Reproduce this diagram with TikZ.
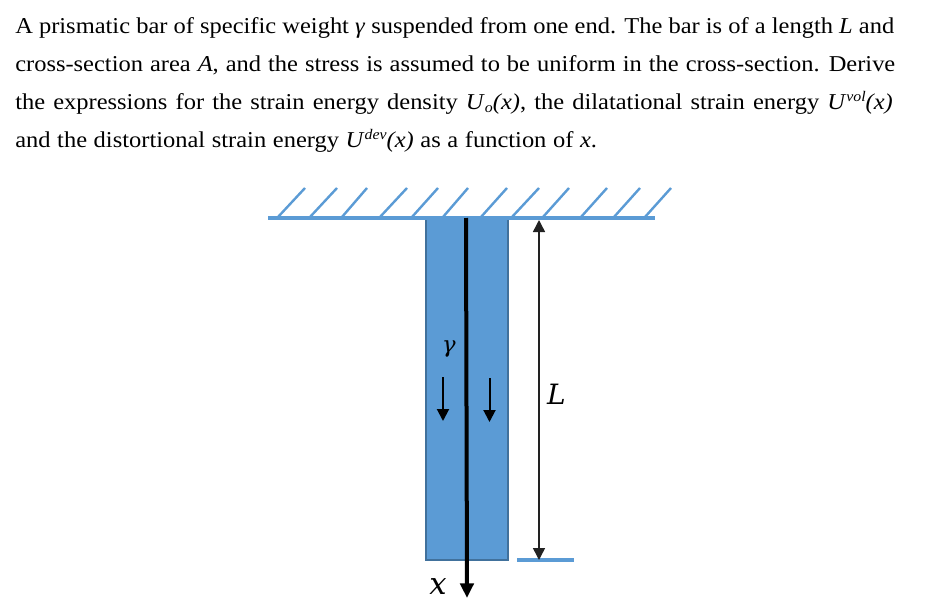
\documentclass[tikz,border=0pt]{standalone}
\usepackage{fontspec}
\setmainfont[FakeStretch=1.08]{Liberation Serif}
\newfontfamily\symfont{DejaVu Serif}
\usetikzlibrary{arrows.meta}
\definecolor{barblue}{HTML}{5B9BD5}
\definecolor{baredge}{HTML}{41719C}
\definecolor{dimgrey}{HTML}{222222}
\newcommand{\supsc}[1]{\raisebox{0.32em}{\fontsize{11}{11}\selectfont\textit{#1}}}
\newcommand{\subsc}[1]{\raisebox{-0.15em}{\fontsize{11}{11}\selectfont\textit{#1}}}
\tikzset{x=0.75pt,y=-0.75pt,
    textline/.style={
        anchor=base west,
        inner sep=0pt,
        font=\fontsize{17}{19}\selectfont},
    symbol/.style={
        inner sep=0pt,
        font=\symfont\fontsize{21}{23}\selectfont\itshape},
    support/.style={
        draw=barblue,
        line width=2.4pt},
    every edge/.style={
        draw=dimgrey,
        line width=1.1pt,
        {Triangle[length=9pt,width=9pt]}-{Triangle[length=9pt,width=9pt]}}}
\begin{document}
\begin{tikzpicture}
        \useasboundingbox (0,0) rectangle (932,614);

        \node[textline] (line1) at (15,33) {A prismatic bar of specific weight \textit{γ} suspended from one end. The bar is of a length \textit{L} and};
        \node[textline] (line2) at (15,71) {\spaceskip=5.23pt cross-section area \textit{A}, and the stress is assumed to be uniform in the cross-section. Derive};
        \node[textline] (line3) at (15,109) {\spaceskip=6.09pt the expressions for the strain energy density \textit{U}\subsc{o}\textit{(x)}, the dilatational strain energy \textit{U}\supsc{vol}\textit{(x)}};
        \node[textline] (line4) at (15,147) {\spaceskip=4.96pt and the distortional strain energy \textit{U}\supsc{dev}\textit{(x)} as a function of \textit{x}.};

        \node[draw=baredge,fill=barblue,line width=1.5pt,minimum width=61.5pt,minimum height=256pt,inner sep=0pt,anchor=north west] (bar) at (424.5,218) {};

        \coordinate (wallL) at (268,218);
        \coordinate (wallR) at (655,218);
        \draw[support] (wallL) -- (wallR);
        \foreach \xa/\xb in {278/305,310/337,342/367,380/407,412/438,443/468,481/507,512/539,543/569,581/607,614/640,645/671}
            \draw[draw=barblue,line width=1.8pt] (\xa,217) -- (\xb,188);

        \coordinate (endL) at (517,560);
        \coordinate (endR) at (574,560);
        \draw[support] (endL) -- (endR);

        \coordinate (top) at (539,220);
        \coordinate (bottom) at (539,560);
        \draw (top) edge node[symbol,xshift=13pt,yshift=-3.5pt,black] (lenL) {L} (bottom);

        \coordinate (axisA) at (466,218);
        \coordinate (axisB) at (467,598);
        \draw[line width=3pt,-{Triangle[length=11pt,width=10pt]}] (axisA) -- (axisB);
        \node[symbol,font=\symfont\fontsize{23}{25}\selectfont\itshape] (labx) at (438,587) {x};

        \node[symbol,font=\symfont\fontsize{17}{19}\selectfont\itshape] (gam) at (449,349) {γ};
        \coordinate (loadA) at (443,377);
        \coordinate (loadB) at (443,421);
        \coordinate (loadC) at (489.5,378);
        \coordinate (loadD) at (489.5,422);
        \foreach \a/\b in {loadA/loadB,loadC/loadD}
            \draw[line width=1.5pt,-{Triangle[length=9pt,width=9pt]}] (\a) -- (\b);
    \end{tikzpicture}
\end{document}
